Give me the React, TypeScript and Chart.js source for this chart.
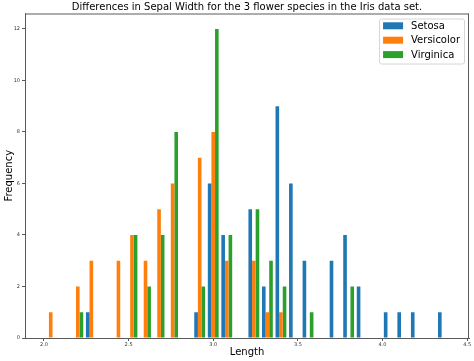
import { useEffect, useRef } from "react";
import { Chart, registerables } from "chart.js";

Chart.register(...registerables);

const TITLE = "Differences in Sepal Width for the 3 flower species in the Iris data set.";
const X_LABEL = "Length";
const Y_LABEL = "Frequency";

// histogram bin centres (bin width 0.08 from 2.0 to 4.4)
const binCenters = [
  2.04, 2.12, 2.2, 2.28, 2.36, 2.44, 2.52, 2.6, 2.68, 2.76,
  2.84, 2.92, 3.0, 3.08, 3.16, 3.24, 3.32, 3.4, 3.48, 3.56,
  3.64, 3.72, 3.8, 3.88, 3.96, 4.04, 4.12, 4.2, 4.28, 4.36,
];

const seriesNames = ["Setosa", "Versicolor", "Virginica"];

const setosa = [
  0, 0, 0, 1, 0, 0, 0, 0, 0, 0,
  0, 1, 6, 4, 0, 5, 2, 9, 6, 3,
  0, 3, 4, 2, 0, 1, 1, 1, 0, 1,
];
const versicolor = [
  1, 0, 2, 3, 0, 3, 4, 3, 5, 6,
  0, 7, 8, 3, 0, 3, 1, 1, 0, 0,
  0, 0, 0, 0, 0, 0, 0, 0, 0, 0,
];
const virginica = [
  0, 0, 1, 0, 0, 0, 4, 2, 4, 8,
  0, 2, 12, 4, 0, 5, 3, 2, 0, 1,
  0, 0, 2, 0, 0, 0, 0, 0, 0, 0,
];

const xTicks = [2.0, 2.5, 3.0, 3.5, 4.0, 4.5];
const yTicks = [0, 2, 4, 6, 8, 10, 12];
const X_MIN = 1.888;
const X_MAX = 4.511;
const Y_MIN = 0;
const Y_MAX = 12.6;

const COLORS = ["#1f77b4", "#ff7f0e", "#2ca02c"];
const FONT = "'DejaVu Sans', sans-serif";
const AXIS_COLOR = "#5a5a5a";

const spinePlugin = {
  id: "spines",
  afterDatasetsDraw(chart: any) {
    const { ctx, chartArea: a } = chart;
    ctx.save();
    ctx.strokeStyle = AXIS_COLOR;
    ctx.lineWidth = 1;
    ctx.beginPath();
    ctx.moveTo(a.left, a.top + 0.5);
    ctx.lineTo(a.right, a.top + 0.5);
    ctx.moveTo(a.right - 0.5, a.top);
    ctx.lineTo(a.right - 0.5, a.bottom);
    ctx.stroke();
    ctx.restore();
  },
};

// title centred over the plotting area, as matplotlib does
const axesTitlePlugin = {
  id: "axesTitle",
  afterDraw(chart: any) {
    const { ctx, chartArea: a } = chart;
    ctx.save();
    ctx.font = `10px ${FONT}`;
    ctx.fillStyle = "#000";
    ctx.textAlign = "center";
    ctx.textBaseline = "middle";
    ctx.fillText(TITLE, (a.left + a.right) / 2, a.top - 6.5);
    ctx.restore();
  },
};

const legendPlugin = {
  id: "boxLegend",
  afterDraw(chart: any) {
    const { ctx, chartArea: a } = chart;
    const datasets = chart.data.datasets;
    ctx.save();
    ctx.font = `10px ${FONT}`;
    const textW = Math.max(...datasets.map((d: any) => ctx.measureText(d.label).width));
    const pad = 4;
    const handleW = 20;
    const handleH = 7;
    const gap = 8;
    const pitch = 14.4;
    const w = pad + handleW + gap + textW + pad;
    const h = 45;
    const right = a.right - 5;
    const left = right - w;
    const top = a.top + 5;
    ctx.beginPath();
    ctx.roundRect(left + 0.5, top + 0.5, w, h, 2);
    ctx.fillStyle = "rgba(255,255,255,0.85)";
    ctx.fill();
    ctx.strokeStyle = "#d6d6d6";
    ctx.lineWidth = 1;
    ctx.stroke();
    datasets.forEach((d: any, i: number) => {
      const cy = top + 7.3 + i * pitch;
      ctx.fillStyle = d.backgroundColor;
      ctx.fillRect(left + pad, cy - handleH / 2, handleW, handleH);
      ctx.fillStyle = "#000";
      ctx.textBaseline = "middle";
      ctx.textAlign = "left";
      ctx.fillText(d.label, left + pad + handleW + gap, cy + 0.5);
    });
    ctx.restore();
  },
};

export default function App() {
  const canvasRef = useRef<HTMLCanvasElement | null>(null);

  useEffect(() => {
    document.body.style.margin = "0";
    const canvas = canvasRef.current;
    if (!canvas) return;
    const seriesValues = [setosa, versicolor, virginica];
    const chart = new Chart(canvas, {
      type: "bar",
      data: {
        datasets: seriesNames.map((name, s) => ({
          label: name,
          data: binCenters.map((x, i) => ({ x, y: seriesValues[s][i] })),
          backgroundColor: COLORS[s],
          borderWidth: 0,
          barPercentage: 1,
          categoryPercentage: 0.8,
        })),
      },
      options: {
        animation: false,
        responsive: false,
        devicePixelRatio: 1,
        layout: { padding: { left: 0, right: 5, top: 13.5, bottom: 0 } },
        plugins: {
          legend: { display: false },
          tooltip: { enabled: false },
          title: { display: false },
        },
        scales: {
          x: {
            type: "linear",
            min: X_MIN,
            max: X_MAX,
            offset: false,
            afterFit: (scale: any) => {
              scale.height = 23;
            },
            afterBuildTicks: (scale: any) => {
              scale.ticks = xTicks.map((v) => ({ value: v }));
            },
            ticks: {
              includeBounds: false,
              autoSkip: false,
              maxRotation: 0,
              padding: 1,
              color: "#333",
              font: { family: FONT, size: 5 },
              callback: (v: any) => Number(v).toFixed(1),
            },
            grid: {
              offset: false,
              drawOnChartArea: false,
              drawTicks: true,
              tickLength: 3,
              color: AXIS_COLOR,
            },
            border: { display: true, color: AXIS_COLOR, width: 1 },
            title: {
              display: true,
              text: X_LABEL,
              color: "#000",
              font: { family: FONT, size: 10, lineHeight: 1.2 },
              padding: { top: 3, bottom: 3 },
            },
          },
          y: {
            type: "linear",
            min: Y_MIN,
            max: Y_MAX,
            afterFit: (scale: any) => {
              scale.width = 25;
            },
            afterBuildTicks: (scale: any) => {
              scale.ticks = yTicks.map((v) => ({ value: v }));
            },
            ticks: {
              includeBounds: false,
              autoSkip: false,
              padding: 2,
              color: "#333",
              font: { family: FONT, size: 5 },
            },
            grid: {
              drawOnChartArea: false,
              drawTicks: true,
              tickLength: 3,
              color: AXIS_COLOR,
            },
            border: { display: true, color: AXIS_COLOR, width: 1 },
            title: {
              display: true,
              text: Y_LABEL,
              color: "#000",
              font: { family: FONT, size: 10, lineHeight: 1.2 },
              padding: { top: 3, bottom: 3 },
            },
          },
        },
      },
      plugins: [spinePlugin, axesTitlePlugin, legendPlugin],
    } as any);
    return () => chart.destroy();
  }, []);

  return (
    <div style={{ width: 474, height: 361 }}>
      <canvas ref={canvasRef} width={474} height={361} style={{ display: "block" }} />
    </div>
  );
}
